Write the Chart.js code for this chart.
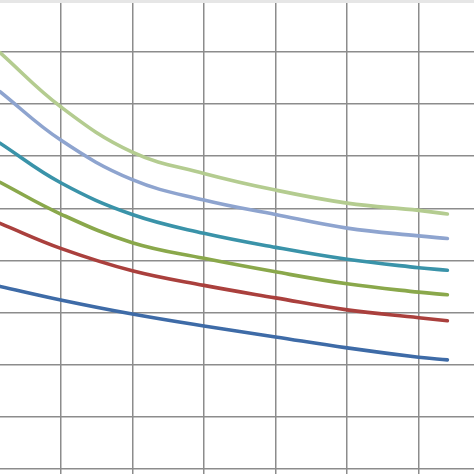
<!DOCTYPE html>
<html>
<head>
<meta charset="utf-8">
<script src="https://cdn.jsdelivr.net/npm/chart.js@4"></script>
<style>
  html, body { margin: 0; padding: 0; background: #ffffff; }
  #wrap { position: relative; width: 474px; height: 474px; }
  #band { position: absolute; left: 0; top: 0; width: 474px; height: 3px; background: #e6e6e6; }
  canvas { display: block; }
</style>
</head>
<body>
<div id="wrap">
  <canvas id="c" width="474" height="474"></canvas>
  <div id="band"></div>
</div>
<script>
// x positions of the sampled points
const xValues = [1.52, 10, 20, 30, 40, 50, 60, 64];
// series values
const seriesLightGreen = [7.99, 6.95, 6.08, 5.67, 5.35, 5.10, 4.96, 4.89];
const seriesLightBlue  = [7.24, 6.31, 5.55, 5.16, 4.88, 4.62, 4.47, 4.42];
const seriesTeal       = [6.25, 5.49, 4.88, 4.52, 4.25, 4.02, 3.86, 3.81];
const seriesOlive      = [5.50, 4.89, 4.34, 4.04, 3.78, 3.55, 3.39, 3.34];
const seriesRed        = [4.71, 4.23, 3.80, 3.52, 3.28, 3.05, 2.90, 2.84];
const seriesBlue       = [3.50, 3.24, 2.97, 2.74, 2.53, 2.32, 2.14, 2.09];
// gridline tick values
const xTicks = [10, 20, 30, 40, 50, 60];
const yTicks = [0, 1, 2, 3, 4, 5, 6, 7, 8];

function pts(ys) { return xValues.map((x, i) => ({ x: x, y: ys[i] })); }
function ds(ys, color) {
  return {
    data: pts(ys), borderColor: color, borderWidth: 3.6, pointRadius: 0,
    fill: false, tension: 0.4, borderCapStyle: 'round', borderJoinStyle: 'round'
  };
}

new Chart(document.getElementById('c'), {
  type: 'line',
  data: {
    datasets: [
      ds(seriesLightGreen, '#b4cc90'),
      ds(seriesLightBlue, '#8ea4cf'),
      ds(seriesTeal, '#3a93a9'),
      ds(seriesOlive, '#8aa84b'),
      ds(seriesRed, '#aa403d'),
      ds(seriesBlue, '#3e6ba7')
    ]
  },
  options: {
    responsive: false,
    animation: false,
    layout: { padding: 0 },
    plugins: { legend: { display: false }, tooltip: { enabled: false } },
    scales: {
      x: {
        type: 'linear', min: 1.52, max: 67.72,
        afterBuildTicks: (s) => { s.ticks = xTicks.map(v => ({ value: v })); },
        afterFit: (s) => { s.height = 0; },
        ticks: { display: false },
        border: { display: false },
        grid: { color: '#8c8c8c', lineWidth: 1.5, drawTicks: false }
      },
      y: {
        type: 'linear', min: -0.102, max: 9.0,
        afterBuildTicks: (s) => { s.ticks = yTicks.map(v => ({ value: v })); },
        afterFit: (s) => { s.width = 0; },
        ticks: { display: false },
        border: { display: false },
        grid: { color: '#8c8c8c', lineWidth: 1.5, drawTicks: false }
      }
    }
  }
});
</script>
</body>
</html>
